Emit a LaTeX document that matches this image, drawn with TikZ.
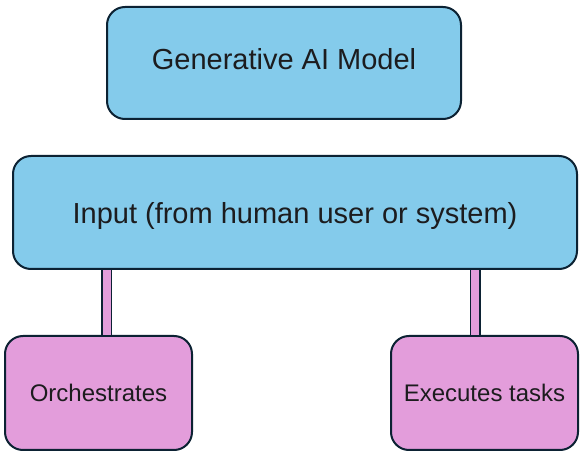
\documentclass[tikz,border=0pt]{standalone}
\usepackage{fontspec}
\setmainfont{Liberation Sans}
\usepackage{tikz}

\definecolor{boxblue}{RGB}{132,203,235}
\definecolor{boxpink}{RGB}{227,157,219}
\definecolor{edgenavy}{RGB}{12,34,51}
\definecolor{textgray}{RGB}{28,28,30}

\begin{document}
\begin{tikzpicture}[
            x=1pt, y=-1pt,
            every node/.style={rounded corners=18pt, draw=edgenavy, line width=2pt, text=textgray, align=center}, % Common box look
            bluebox/.style={fill=boxblue, font=\fontsize{29}{34}\selectfont}, % Upper boxes
            pinkbox/.style={fill=boxpink, minimum width=187pt, minimum height=114pt, font=\fontsize{24}{28}\selectfont}, % Lower boxes
            link/.style={draw=edgenavy, line width=1.5pt, double=boxpink, double distance=8pt} % Pink bar connectors
            ]

                \useasboundingbox (0,0) rectangle (582,457);

                % Boxes
                \node[bluebox, minimum width=354pt, minimum height=112pt, text height=20pt, text depth=6pt] (genai) at (284,63) {Generative AI Model};
                \node[bluebox, minimum width=564pt, minimum height=113pt, text height=29pt, text depth=6pt] (input) at (295,212.5) {Input (from human user or system)};
                \node[pinkbox] (orch) at (98.5,393) {Orchestrates};
                \node[pinkbox] (exec) at (484.5,393) {Executes tasks};

                % Bars from the input box down to the tasks
                \draw[link] ([xshift=8pt]orch.north) -- ([xshift=8pt]orch.north |- input.south);
                \draw[link] ([xshift=-9.5pt]exec.north) -- ([xshift=-9.5pt]exec.north |- input.south);

            \end{tikzpicture}
\end{document}
